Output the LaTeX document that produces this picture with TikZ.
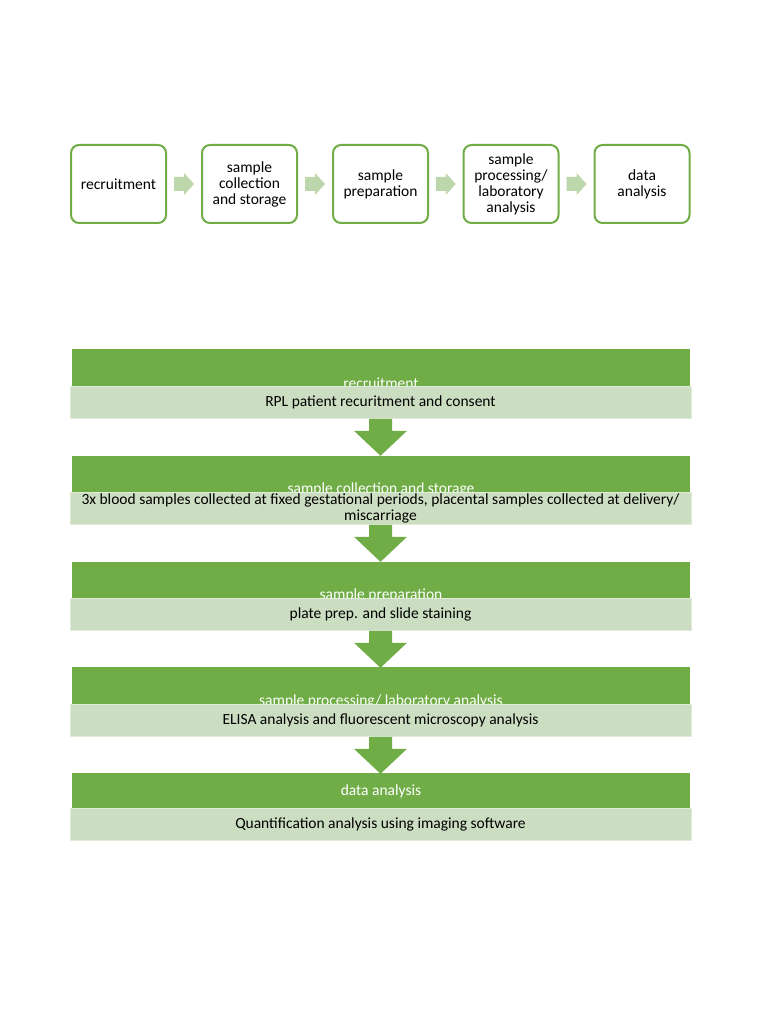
\documentclass[tikz,border=0pt]{standalone}
\usepackage{fontspec}
\setmainfont{Carlito}
\usetikzlibrary{calc}
\definecolor{gr}{HTML}{70AD47}
\definecolor{lg}{HTML}{CCDEC2}
\definecolor{lgb}{HTML}{E0EBD9}
\definecolor{chev}{HTML}{BBD7AB}
\newcommand\chevr[1]{\fill[chev] ($(#1)+(-10,-7)$) -- ++(10,0) -- ++(0,-4) -- ++(10,11) -- ++(-10,11) -- ++(0,-4) -- ++(-10,0) -- cycle;}
\newcommand\downarr[1]{\fill[gr] ($(#1)+(-11.5,0)$) -- ++(23,0) -- ++(0,12) -- ++(15,0) -- ++(-26.5,25) -- ++(-26.5,-25) -- ++(15,0) -- cycle;}
\begin{document}
\begin{tikzpicture}[x=1pt,y=-1pt, font=\fontsize{15.5}{16}\selectfont,
 topbox/.style={draw=gr, line width=2pt, rounded corners=8pt, fill=white, minimum width=95pt, minimum height=78pt, align=center, inner sep=0pt},
 bar/.style={fill=gr, minimum width=618pt, inner sep=0pt, anchor=north},
 bartitle/.style={text=white, inner sep=0pt},
 detail/.style={fill=lg, draw=lgb, line width=0.8pt, minimum width=621pt, minimum height=32pt, inner sep=0pt, align=center, anchor=north}]
\useasboundingbox[fill=white] (0,0) rectangle (768,1024);

% top flow
\node[topbox] (b1) at (118.5,184) {recruitment};
\node[topbox] (b2) at (249.5,184) {sample\\collection\\and storage};
\node[topbox] (b3) at (380.5,184) {sample\\preparation};
\node[topbox] (b4) at (511,184) {sample\\processing/\\laboratory\\analysis};
\node[topbox] (b5) at (642,184) {data\\analysis};
\coordinate (c1) at ($(b1.east)!0.5!(b2.west)$);
\coordinate (c2) at ($(b2.east)!0.5!(b3.west)$);
\coordinate (c3) at ($(b3.east)!0.5!(b4.west)$);
\coordinate (c4) at ($(b4.east)!0.5!(b5.west)$);
\chevr{c1}\chevr{c2}\chevr{c3}\chevr{c4}

% bottom flow: green bars
\node[bar, minimum height=38pt] (g1) at (381,349) {};
\node[bar, minimum height=37pt] (g2) at (381,456) {};
\node[bar, minimum height=37pt] (g3) at (381,562) {};
\node[bar, minimum height=37pt] (g4) at (381,667) {};
\node[bar, minimum height=35pt] (g5) at (381,773) {};
\node[bartitle] (t1) at (381,383) {recruitment};
\node[bartitle] (t2) at (381,489) {sample collection and storage};
\node[bartitle] (t3) at (381,595) {sample preparation};
\node[bartitle] (t4) at (381,701) {sample processing/ laboratory analysis};
\node[bartitle] (t5) at (381,791) {data analysis};
% detail boxes
\node[detail] (d1) at (380.5,386) {RPL patient recuritment and consent};
\node[detail] (d2) at (380.5,492) {3x blood samples collected at fixed gestational periods, placental samples collected at delivery/\\miscarriage};
\node[detail] (d3) at (380.5,598) {plate prep. and slide staining};
\node[detail] (d4) at (380.5,704) {ELISA analysis and fluorescent microscopy analysis};
\node[detail] (d5) at (380.5,808) {Quantification analysis using imaging software};
% down arrows
\downarr{d1.south}\downarr{d2.south}\downarr{d3.south}\downarr{d4.south}
\end{tikzpicture}
\end{document}
